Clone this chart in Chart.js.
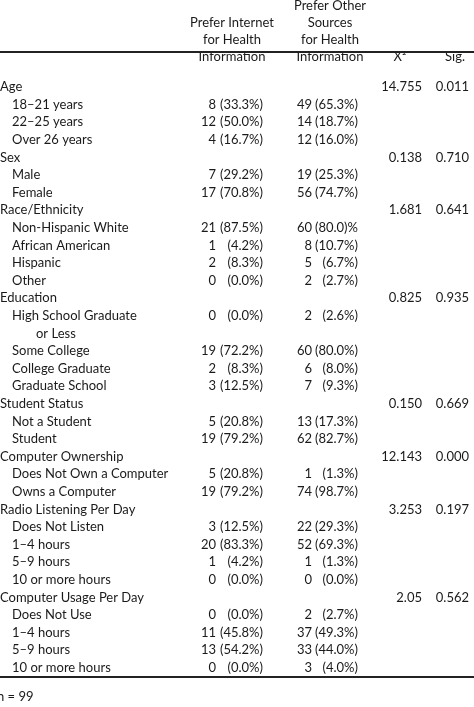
<!DOCTYPE html>
<html lang="en">
<head>
  <meta charset="UTF-8" />
  <title>Internet Preference Table</title>
  <script src="https://cdn.jsdelivr.net/npm/chart.js"></script>
  <style>
    body { margin: 0; background: #fff; }
    .wrap { width: 474px; height: 707px; position: relative; }
  </style>
</head>
<body>
  <div class="wrap"><canvas id="tableChart"></canvas></div>

  <script>
    // rows of the table, top to bottom
    const rowLabels = [
      "Age", "18–21 years", "22–25 years", "Over 26 years",
      "Sex", "Male", "Female",
      "Race/Ethnicity", "Non-Hispanic White", "African American", "Hispanic", "Other",
      "Education", "High School Graduate", "or Less", "Some College", "College Graduate", "Graduate School",
      "Student Status", "Not a Student", "Student",
      "Computer Ownership", "Does Not Own a Computer", "Owns a Computer",
      "Radio Listening Per Day", "Does Not Listen", "1–4 hours", "5–9 hours", "10 or more hours",
      "Computer Usage Per Day", "Does Not Use", "1–4 hours", "5–9 hours", "10 or more hours"
    ];
    const rowIndent = [0,1,1,1, 0,1,1, 0,1,1,1,1, 0,1,2,1,1,1, 0,1,1, 0,1,1, 0,1,1,1,1, 0,1,1,1,1];
    const internetN = ["", "8", "12", "4", "", "7", "17", "", "21", "1", "2", "0", "", "0", "", "19", "2", "3",
      "", "5", "19", "", "5", "19", "", "3", "20", "1", "0", "", "0", "11", "13", "0"];
    const internetPct = ["", "(33.3%)", "(50.0%)", "(16.7%)", "", "(29.2%)", "(70.8%)", "", "(87.5%)", "(4.2%)", "(8.3%)", "(0.0%)",
      "", "(0.0%)", "", "(72.2%)", "(8.3%)", "(12.5%)", "", "(20.8%)", "(79.2%)", "", "(20.8%)", "(79.2%)",
      "", "(12.5%)", "(83.3%)", "(4.2%)", "(0.0%)", "", "(0.0%)", "(45.8%)", "(54.2%)", "(0.0%)"];
    const otherN = ["", "49", "14", "12", "", "19", "56", "", "60", "8", "5", "2", "", "2", "", "60", "6", "7",
      "", "13", "62", "", "1", "74", "", "22", "52", "1", "0", "", "2", "37", "33", "3"];
    const otherPct = ["", "(65.3%)", "(18.7%)", "(16.0%)", "", "(25.3%)", "(74.7%)", "", "(80.0)%", "(10.7%)", "(6.7%)", "(2.7%)",
      "", "(2.6%)", "", "(80.0%)", "(8.0%)", "(9.3%)", "", "(17.3%)", "(82.7%)", "", "(1.3%)", "(98.7%)",
      "", "(29.3%)", "(69.3%)", "(1.3%)", "(0.0%)", "", "(2.7%)", "(49.3%)", "(44.0%)", "(4.0%)"];
    const chiSq = ["14.755", "", "", "", "0.138", "", "", "1.681", "", "", "", "", "0.825", "", "", "", "", "",
      "0.150", "", "", "12.143", "", "", "3.253", "", "", "", "", "2.05", "", "", "", ""];
    const sigValues = ["0.011", "", "", "", "0.710", "", "", "0.641", "", "", "", "", "0.935", "", "", "", "", "",
      "0.669", "", "", "0.000", "", "", "0.197", "", "", "", "", "0.562", "", "", "", ""];
    const headers = [
      { x: 232, lines: ["Prefer Internet", "for Health", "Information"] },
      { x: 330, lines: ["Prefer Other", "Sources", "for Health", "Information"] },
      { x: 400, lines: ["X²"] },
      { x: 455, lines: ["Sig."] }
    ];
    const footnote = "n = 99";

    const FONT = '13px Lato, "Open Sans", sans-serif';

    const tablePlugin = {
      id: 'tableText',
      afterDraw(chart) {
        const c = chart.ctx;
        const xs = chart.scales.x, ys = chart.scales.y;
        const X = v => xs.getPixelForValue(v);
        const Y = v => ys.getPixelForValue(v);
        c.save();
        c.fillStyle = '#1a1a1a';
        c.font = FONT;
        c.textBaseline = 'middle';

        // header, bottom-aligned to row -0.7
        c.textAlign = 'center';
        headers.forEach(h => {
          const n = h.lines.length;
          h.lines.forEach((t, k) => c.fillText(t, X(h.x), Y(-0.7 - (n - 1 - k) * 0.97)));
        });

        // rules
        c.strokeStyle = '#222';
        c.lineWidth = 2;
        [-0.98, 34.52].forEach(r => {
          c.beginPath(); c.moveTo(X(0), Y(r)); c.lineTo(X(474), Y(r)); c.stroke();
        });

        rowLabels.forEach((label, i) => {
          const y = Y(i + 1);
          c.textAlign = 'left';
          c.fillText(label, X(0 + rowIndent[i] * 12 + (rowIndent[i] === 2 ? 12 : 0)), y);
          c.textAlign = 'right';
          c.fillText(internetN[i], X(216), y);
          c.fillText(internetPct[i], X(263), y);
          c.fillText(otherN[i], X(312), y);
          c.fillText(otherPct[i], X(358), y);
          c.fillText(chiSq[i], X(422), y);
          c.fillText(sigValues[i], X(469), y);
        });

        c.textAlign = 'left';
        c.fillText(footnote, X(-3), Y(35.66));
        c.restore();
      }
    };

    new Chart(document.getElementById('tableChart'), {
      type: 'scatter',
      data: { datasets: [{ data: [], pointRadius: 0 }] },
      options: {
        responsive: true,
        maintainAspectRatio: false,
        animation: false,
        layout: { padding: 0 },
        plugins: { legend: { display: false }, tooltip: { enabled: false } },
        scales: {
          x: { type: 'linear', min: 0, max: 474, display: false },
          y: { type: 'linear', min: -3.94, max: 36.23, reverse: true, display: false }
        }
      },
      plugins: [tablePlugin]
    });
  </script>
</body>
</html>
